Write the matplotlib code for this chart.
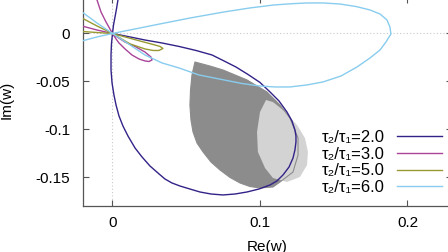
import matplotlib
matplotlib.use("Agg")
import matplotlib.pyplot as plt

plt.rcParams['font.family'] = ['Liberation Sans', 'DejaVu Sans']
plt.rcParams['font.size'] = 11

# curvas (Re, Im)
re_2 = [0.0051, 0.0037, 0.0027, 0.0017, 0.0007, 0.0, -0.0007, -0.0010, -0.0010, -0.0003,
        0.0010, 0.0024, 0.0044, 0.0071, 0.0105, 0.0153, 0.0200, 0.0254, 0.0308, 0.0356,
        0.0403, 0.0458, 0.0525, 0.0593, 0.0668, 0.0749, 0.0831, 0.0912, 0.0993, 0.1068,
        0.1115, 0.1156, 0.1197, 0.1224, 0.1237, 0.1244, 0.1244, 0.1237, 0.1217, 0.1183,
        0.1129, 0.1068, 0.1000, 0.0919, 0.0837, 0.0756, 0.0675, 0.0566, 0.0451, 0.0336,
        0.0220, 0.0119, 0.0]
im_2 = [0.0474, 0.0349, 0.0255, 0.0172, 0.0089, 0.0, -0.0109, -0.0224, -0.0380, -0.0516,
        -0.0641, -0.0745, -0.0859, -0.0964, -0.1068, -0.1193, -0.1286, -0.1380, -0.1453, -0.1516,
        -0.1557, -0.1589, -0.1620, -0.1651, -0.1672, -0.1682, -0.1672, -0.1651, -0.1620, -0.1578,
        -0.1536, -0.1474, -0.1391, -0.1297, -0.1214, -0.1130, -0.1068, -0.1005, -0.0911, -0.0818,
        -0.0703, -0.0609, -0.0510, -0.0427, -0.0349, -0.0286, -0.0224, -0.0177, -0.0135, -0.0099,
        -0.0068, -0.0036, 0.0]

re_3 = [-0.0092, -0.0105, -0.0078, -0.0044, 0.0, 0.0024, 0.0044, 0.0085, 0.0132, 0.0180,
        0.0220, 0.0247, 0.0268, 0.0261, 0.0220, 0.0153, 0.0085, 0.0037, 0.0, -0.0105,
        -0.0207, -0.0288]
im_3 = [0.0453, 0.0349, 0.0224, 0.0120, 0.0, -0.0057, -0.0099, -0.0161, -0.0224, -0.0266,
        -0.0286, -0.0292, -0.0276, -0.0245, -0.0193, -0.0135, -0.0089, -0.0042, 0.0, 0.0036,
        0.0078, 0.0109]

re_5 = [-0.0288, -0.0207, -0.0105, 0.0, 0.0051, 0.0119, 0.0220, 0.0275, 0.0315, 0.0342,
        0.0322, 0.0288, 0.0186, 0.0085, 0.0, -0.0105, -0.0207, -0.0288]
im_5 = [0.0224, 0.0161, 0.0078, 0.0, -0.0047, -0.0109, -0.0161, -0.0177, -0.0177, -0.0156,
        -0.0135, -0.0120, -0.0078, -0.0036, 0.0, 0.0010, 0.0021, 0.0026]

re_6 = [-0.0356, -0.0207, -0.0105, 0.0, 0.0058, 0.0119, 0.0220, 0.0336, 0.0451, 0.0586,
        0.0756, 0.0878, 0.1000, 0.1102, 0.1203, 0.1319, 0.1427, 0.1549, 0.1658, 0.1746,
        0.1814, 0.1854, 0.1888, 0.1881, 0.1861, 0.1814, 0.1746, 0.1651, 0.1542, 0.1427,
        0.1319, 0.1203, 0.1095, 0.0932, 0.0756, 0.0525, 0.0288, 0.0, -0.0105, -0.0207,
        -0.0356]
im_6 = [0.0370, 0.0224, 0.0109, 0.0, -0.0057, -0.0120, -0.0224, -0.0307, -0.0359, -0.0432,
        -0.0484, -0.0521, -0.0547, -0.0557, -0.0557, -0.0536, -0.0505, -0.0443, -0.0349, -0.0255,
        -0.0172, -0.0089, -0.0005, 0.0068, 0.0141, 0.0203, 0.0245, 0.0281, 0.0307, 0.0318,
        0.0318, 0.0309, 0.0297, 0.0266, 0.0224, 0.0161, 0.0089, 0.0, -0.0036, -0.0078,
        -0.0130]

# regiones sombreadas
re_dark = [0.0559, 0.0661, 0.0749, 0.0912, 0.1047, 0.1136, 0.1203, 0.1258, 0.1258, 0.1224,
           0.1136, 0.1088, 0.1000, 0.0932, 0.0864, 0.0797, 0.0729, 0.0668, 0.0614, 0.0573,
           0.0546, 0.0532, 0.0525, 0.0529, 0.0539]
im_dark = [-0.0297, -0.0339, -0.0380, -0.0484, -0.0609, -0.0745, -0.0880, -0.1089, -0.1266, -0.1443,
           -0.1547, -0.1599, -0.1609, -0.1594, -0.1557, -0.1500, -0.1422, -0.1339, -0.1234, -0.1141,
           -0.1026, -0.0901, -0.0745, -0.0589, -0.0432]
re_light = [0.1041, 0.1088, 0.1156, 0.1251, 0.1305, 0.1325, 0.1319, 0.1271, 0.1183, 0.1088,
            0.1034, 0.0986, 0.0980, 0.1000]
im_light = [-0.0693, -0.0714, -0.0797, -0.0953, -0.1089, -0.1234, -0.1370, -0.1495, -0.1547, -0.1505,
            -0.1401, -0.1234, -0.1026, -0.0818]

labels = ['τ₂/τ₁=2.0', 'τ₂/τ₁=3.0', 'τ₂/τ₁=5.0', 'τ₂/τ₁=6.0']
colors = ['#332288', '#AA4499', '#999933', '#88CCEE']

fig = plt.figure(figsize=(4.48, 2.52), dpi=100)
ax = fig.add_axes([82.7/448, 46/252, 369.3/448, 209/252])

#sombras
ax.fill(re_dark, im_dark, color='#8c8c8c', lw=0, zorder=1)
ax.fill(re_light, im_light, color='#d3d3d3', lw=0, zorder=2)
ax.fill(re_dark, im_dark, fill=False, edgecolor='#8c8c8c', lw=0.8, zorder=3)

#lineas de cero
ax.axhline(0, color='#c8c8c8', lw=0.8, ls=(0, (1, 2)), zorder=0)
ax.axvline(0, color='#c8c8c8', lw=0.8, ls=(0, (1, 2)), zorder=0)

#curvas
for xs, ys, c, lab in zip([re_2, re_3, re_5, re_6], [im_2, im_3, im_5, im_6], colors, labels):
    ax.plot(xs, ys, color=c, lw=1.0, label=lab, zorder=4)

ax.set_xlim(-0.0202, 0.2302)
ax.set_ylim(-0.1797, 0.0380)
ax.set_xticks([0, 0.1, 0.2])
ax.set_xticklabels(['0', '0.1', '0.2'])
ax.set_yticks([-0.15, -0.1, -0.05, 0])
ax.set_yticklabels(['-0.15', '-0.1', '-0.05', '0'])
ax.tick_params(direction='in', length=4, width=0.8, color='#555555', top=True, right=True,
               labelsize=11)
ax.tick_params(axis='x', pad=7)
ax.tick_params(axis='y', pad=9)
for s in ax.spines.values():
    s.set_color('#555555')
    s.set_linewidth(0.9)

ax.set_xlabel('Re(w)', fontsize=11)
ax.set_ylabel('Im(w)', fontsize=11)
ax.xaxis.set_label_coords(0.5, -0.163)
ax.yaxis.set_label_coords(-0.186, 0.507)

ax.legend(loc='upper right', bbox_to_anchor=(442/448, 0.484), bbox_transform=fig.transFigure,
          frameon=False, markerfirst=False, borderpad=0, borderaxespad=0,
          handlelength=2.7, handletextpad=0.75, labelspacing=0.1, fontsize=12)

plt.savefig("out.png", dpi=100)
